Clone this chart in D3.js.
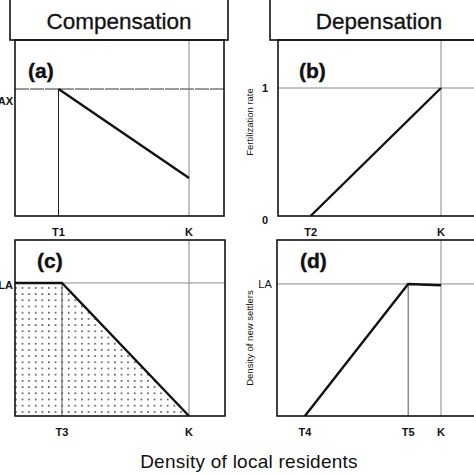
<!DOCTYPE html>
<html>
<head>
<meta charset="utf-8">
<script src="https://cdn.jsdelivr.net/npm/d3@7"></script>
<style>
  body { margin: 0; background: #fff; }
  svg { display: block; font-family: "Liberation Sans", Arial, sans-serif; }
</style>
</head>
<body>
<svg id="chart" width="474" height="474"></svg>
<script>
// thresholds on the density axis (K = carrying capacity = 1)
const thresholds = { T1: 0.25, T2: 0.2, T3: 0.27, T4: 0.17, T5: 0.8, K: 1 };

// curves: [density of local residents, response]
const curveA = [[0.25, 1], [1, 0.3]];
const curveB = [[0.2, 0], [1, 1]];
const curveC = [[0, 1], [0.27, 1], [1, 0]];
const curveD = [[0.17, 0], [0.8, 1], [1, 0.99]];

const headers = ["Compensation", "Depensation"];
const panelLabels = ["(a)", "(b)", "(c)", "(d)"];
const yTickLabels = [["MAX"], ["0", "1"], ["LA"], ["LA"]];
const yTitles = ["", "Fertilization rate", "", "Density of new settlers"];
const xTitle = "Density of local residents";

const svg = d3.select("#chart");

// stipple fill for panel (c)
const pat = svg.append("defs").append("pattern")
  .attr("id", "dots").attr("patternUnits", "userSpaceOnUse")
  .attr("width", 6.6).attr("height", 6.2);
pat.append("rect").attr("x", 2).attr("y", 2).attr("width", 1.4).attr("height", 1.4).attr("fill", "#111");

// header boxes
const hdr = [{ x: 10, w: 218 }, { x: 270, w: 230 }];
hdr.forEach((h, i) => {
  svg.append("rect").attr("x", h.x).attr("y", -1).attr("width", h.w).attr("height", 41)
    .attr("fill", "none").attr("stroke", "#111").attr("stroke-width", 1.6);
  svg.append("text").attr("x", i === 0 ? 119 : 379).attr("y", 29)
    .attr("text-anchor", "middle").attr("font-size", 22.5).attr("fill", "#111")
    .attr("stroke", "#111").attr("stroke-width", 0.3)
    .text(headers[i]);
});

const panels = [
  { l: 15, r: 224, t: 40, b: 216, xMax: 1.201, yMax: 1.386, curve: curveA, ticks: ["T1", "K"], vline: "T1", labX: 28, labY: 78 },
  { l: 278, r: 500, t: 40, b: 216, xMax: 1.362, yMax: 1.375, curve: curveB, ticks: ["T2", "K"], vline: null, labX: 299, labY: 78 },
  { l: 15, r: 225, t: 240, b: 416, xMax: 1.207, yMax: 1.323, curve: curveC, ticks: ["T3", "K"], vline: "T3", labX: 37, labY: 268, fill: true },
  { l: 277, r: 500, t: 240, b: 416, xMax: 1.36, yMax: 1.333, curve: curveD, ticks: ["T4", "T5", "K"], vline: "T5", labX: 300, labY: 268 }
];

panels.forEach((p, i) => {
  const x = d3.scaleLinear().domain([0, p.xMax]).range([p.l, p.r]);
  const y = d3.scaleLinear().domain([0, p.yMax]).range([p.b, p.t]);
  const g = svg.append("g");

  // stippled area under curve
  if (p.fill) {
    g.append("path").datum(p.curve)
      .attr("d", d3.area().x(d => x(d[0])).y0(y(0)).y1(d => y(d[1])))
      .attr("fill", "url(#dots)");
  }

  // reference line at the top level (MAX / 1 / LA)
  g.append("line").attr("x1", p.l).attr("x2", p.r).attr("y1", y(1)).attr("y2", y(1))
    .attr("stroke", i === 0 ? "#333" : "#888").attr("stroke-width", 1)
    .attr("stroke-dasharray", i === 0 ? "14,1" : null);

  // K line
  g.append("line").attr("x1", x(thresholds.K)).attr("x2", x(thresholds.K))
    .attr("y1", p.t).attr("y2", p.b).attr("stroke", "#888").attr("stroke-width", 1);

  // threshold drop line
  if (p.vline) {
    g.append("line").attr("x1", x(thresholds[p.vline])).attr("x2", x(thresholds[p.vline]))
      .attr("y1", y(1)).attr("y2", p.b)
      .attr("stroke", i === 0 ? "#222" : "#555").attr("stroke-width", 1);
  }

  // frame
  g.append("rect").attr("x", p.l).attr("y", p.t).attr("width", p.r - p.l).attr("height", p.b - p.t)
    .attr("fill", "none").attr("stroke", "#111").attr("stroke-width", 1.6);

  // curve
  g.append("path").datum(p.curve)
    .attr("d", d3.line().x(d => x(d[0])).y(d => y(d[1])))
    .attr("fill", "none").attr("stroke", "#111").attr("stroke-width", 2.4)
    .attr("stroke-linejoin", "miter");

  // x tick labels
  p.ticks.forEach(t => {
    g.append("text").attr("x", x(thresholds[t])).attr("y", p.b + 20)
      .attr("text-anchor", "middle").attr("font-size", 11).attr("font-weight", "bold")
      .attr("fill", "#111").text(t);
  });

  // panel letter
  g.append("text").attr("x", p.labX).attr("y", p.labY)
    .attr("font-size", 21).attr("font-weight", "bold").attr("fill", "#111")
    .attr("stroke", "#111").attr("stroke-width", 0.4)
    .text(panelLabels[i]);

  // y tick labels
  const yl = yTickLabels[i];
  if (i === 0 || i === 2) {
    g.append("text").attr("x", 13).attr("y", y(1) + (i === 0 ? 16 : 6))
      .attr("text-anchor", "end").attr("font-size", 11).attr("font-weight", "bold")
      .attr("fill", "#111").text(yl[0]);
  } else {
    const vals = i === 1 ? [0, 1] : [1];
    vals.forEach((v, k) => {
      g.append("text").attr("x", 265).attr("y", y(v) + (v === 0 ? 8 : 4))
        .attr("text-anchor", "middle").attr("font-size", 11).attr("font-weight", i === 1 ? "bold" : "normal")
        .attr("fill", "#111").text(yl[k]);
    });
  }

  // y axis title
  if (yTitles[i]) {
    const cy = i === 1 ? 122 : 338;
    g.append("text").attr("transform", `translate(253,${cy}) rotate(-90)`)
      .attr("text-anchor", "middle").attr("font-size", 9.5).attr("fill", "#111")
      .text(yTitles[i]);
  }
});

// shared x-axis title
svg.append("text").attr("x", 249).attr("y", 468).attr("text-anchor", "middle")
  .attr("font-size", 19).attr("letter-spacing", 0.25)
  .attr("fill", "#111").text(xTitle);
</script>
</body>
</html>
